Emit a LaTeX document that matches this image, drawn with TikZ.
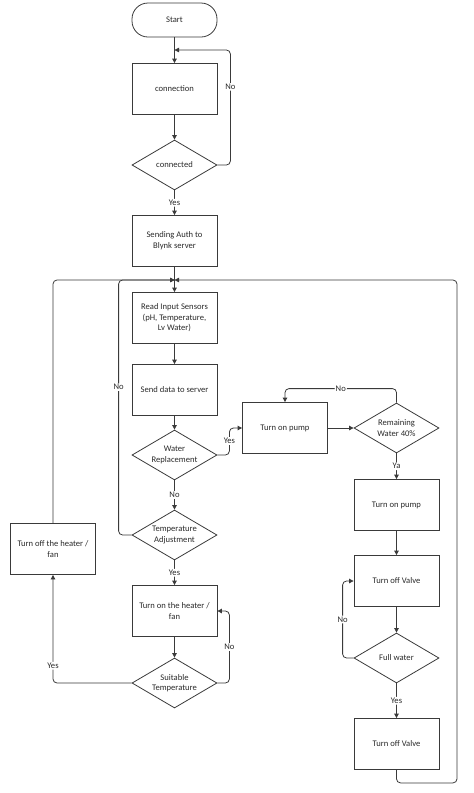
\documentclass[tikz,border=0pt]{standalone}
\usepackage{fontspec}
\setmainfont{Carlito}
\usetikzlibrary{shapes.geometric,arrows.meta}
\definecolor{ln}{HTML}{3A3A3A}
\definecolor{tx}{HTML}{2A2A2A}
\begin{document}
\begin{tikzpicture}[x=1pt,y=-1pt,
  every node/.style={font=\fontsize{8.6}{10.6}\selectfont,text=tx},
  box/.style={draw=ln,line width=0.8pt,rectangle,minimum width=85pt,minimum height=51pt,align=center,inner sep=1pt},
  term/.style={draw=ln,line width=0.8pt,rectangle,rounded corners=16pt,minimum width=85pt,minimum height=34pt},
  dec/.style={draw=ln,line width=0.8pt,diamond,aspect=1.7,minimum width=85pt,minimum height=50pt,inner sep=0pt,align=center},
  arr/.style={draw=ln,line width=0.8pt,-{Triangle[length=4.5pt,width=4.5pt]},rounded corners=4pt},
  lbl/.style={fill=white,inner sep=1pt}]
\useasboundingbox (0,0) rectangle (474,793);

\node[term] (start) at (174.5,20) {Start};
\node[box] (conn) at (174.5,89) {connection};
\node[dec] (cd) at (174.5,165) {connected};
\node[box] (auth) at (174.5,241) {Sending Auth to\\Blynk server};
\node[box] (read) at (174.5,318) {Read Input Sensors\\(pH, Temperature,\\Lv Water)};
\node[box] (send) at (174.5,390) {Send data to server};
\node[dec] (wr) at (174.5,455) {Water\\Replacement};
\node[dec] (ta) at (174.5,535) {Temperature\\Adjustment};
\node[box] (onheat) at (174.5,611) {Turn on the heater /\\fan};
\node[dec] (suit) at (174.5,683) {Suitable\\Temperature};
\node[box] (offheat) at (53,549) {Turn off the heater /\\fan};
\node[box] (pump1) at (285,428) {Turn on pump};
\node[dec] (rem) at (396.5,428) {Remaining\\Water 40\%};
\node[box] (pump2) at (396.5,505) {Turn on pump};
\node[box] (ov1) at (396.5,581) {Turn off Valve};
\node[dec] (fw) at (396.5,658) {Full water};
\node[box] (ov2) at (396.5,744) {Turn off Valve};

\coordinate (j1) at (174.5,50);
\coordinate (j2) at (174.5,280);
\coordinate (jr) at (457,280);

% top part
\draw[arr] (start) -- (conn);
\draw[arr] (conn) -- (cd);
\draw[arr] (cd.east) -- ++(13,0) |- (j1) node[lbl,pos=0.34] {No};
\draw[arr] (cd) -- node[lbl] {Yes} (auth);
\draw[arr] (auth) -- (read);

% main column
\draw[arr] (read) -- (send);
\draw[arr] (send) -- (wr);
\draw[arr] (wr) -- node[lbl] {No} (ta);
\draw[arr] (ta) -- node[lbl] {Yes} (onheat);
\draw[arr] (onheat) -- (suit);
\draw[arr] (ta.west) -- ++(-13,0) |- (j2) node[lbl,pos=0.29] {No};
\draw[arr] (suit.east) -- ++(12,0) |- (onheat.east) node[lbl,pos=0.25] {No};
\draw[arr] (suit.west) -| (offheat.south) node[lbl,pos=0.58] {Yes};
\draw[arr] (offheat.north) |- (j2);

% water branch
\draw[arr] (wr.east) -- ++(12,0) |- (pump1.west) node[lbl,pos=0.26] {Yes};
\draw[arr] (pump1) -- (rem);
\draw[arr] (rem.north) -- ++(0,-14) -| (pump1.north) node[lbl,pos=0.25] {No};
\draw[arr] (rem) -- node[lbl] {Ya} (pump2);
\draw[arr] (pump2) -- (ov1);
\draw[arr] (ov1) -- (fw);
\draw[arr] (fw.west) -- ++(-11,0) |- (ov1.west) node[lbl,pos=0.25] {No};
\draw[arr] (fw) -- node[lbl] {Yes} (ov2);
\draw[arr] (ov2.south) -- ++(0,13) -| (jr) -- (j2);
\end{tikzpicture}
\end{document}
